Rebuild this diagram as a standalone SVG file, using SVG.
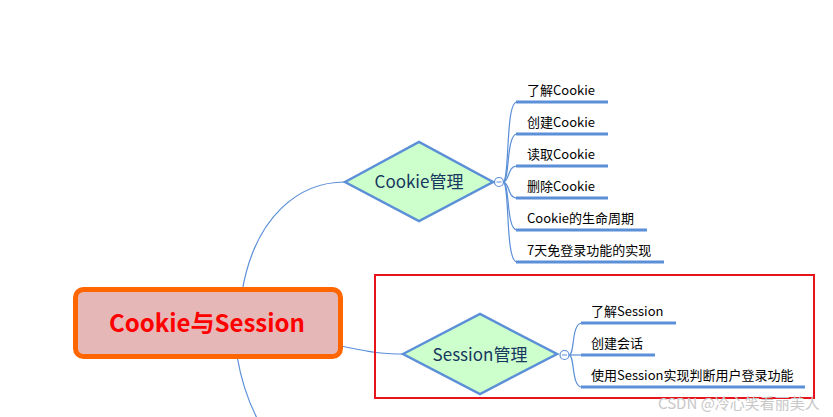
<svg xmlns="http://www.w3.org/2000/svg" width="833" height="417" viewBox="0 0 833 417">
<style>
.ln{fill:none;stroke:#5b8fd7;stroke-width:1.2}
.ul{fill:none;stroke:#5b8fd7;stroke-width:3}
.dia{fill:#ccffcc;stroke:#5b8fd7;stroke-width:2.5}
.tg{stroke:#5b8fd7;stroke-width:1.2;fill:#ffffff}
.t{font-family:"Noto Sans CJK SC","Noto Sans",sans-serif;font-size:13px;fill:#000}
.dt{font-family:"Noto Sans CJK SC","Noto Sans",sans-serif;font-size:17px;fill:#17375e;text-anchor:middle}
</style>
<rect width="833" height="417" fill="#ffffff"/>
<g id="connectors">
<path class="ln" d="M242,292 C255,215 300,182 345,182"/>
<path class="ln" d="M237,356 C242,385 250,405 258,420"/>
<path class="ln" d="M341,346 C370,352 380,354 403,354"/>
<path class="ln" d="M503,182 C510,182 505,102 517,102"/>
<path class="ln" d="M503,182 C510,182 506,134 517,134"/>
<path class="ln" d="M503,182 C510,182 507,166 517,166"/>
<path class="ln" d="M503,182 C510,182 507,198 517,198"/>
<path class="ln" d="M503,182 C510,182 506,230 517,230"/>
<path class="ln" d="M503,182 C510,182 505,262 517,262"/>
<path class="ln" d="M569,355 C575,355 571,323 582,323"/>
<path class="ln" d="M569,355 L582,355"/>
<path class="ln" d="M569,355 C575,355 571,387 582,387"/>
</g>
<g id="root">
<rect x="75.5" y="289.5" width="265" height="67" rx="8" fill="#e5b8b7" stroke="#ff6600" stroke-width="5"/>
<text x="207" y="332" text-anchor="middle" font-family="'Noto Sans CJK SC','Noto Sans',sans-serif" font-size="24" font-weight="bold" fill="#ff0000">Cookie与Session</text>
</g>
<g id="cookie">
<polygon class="dia" points="345,182 419,142 493,182 419,221"/>
<text class="dt" x="419" y="188">Cookie管理</text>
<circle class="tg" cx="499" cy="182" r="4.5"/>
<line x1="496.5" y1="182" x2="501.5" y2="182" stroke="#5b8fd7" stroke-width="1"/>
</g>
<g id="c1"><path class="ul" d="M516,102 H608"/><text class="t" x="527" y="95">了解Cookie</text></g>
<g id="c2"><path class="ul" d="M516,134 H608"/><text class="t" x="527" y="127">创建Cookie</text></g>
<g id="c3"><path class="ul" d="M516,166 H608"/><text class="t" x="527" y="159">读取Cookie</text></g>
<g id="c4"><path class="ul" d="M516,198 H608"/><text class="t" x="527" y="191">删除Cookie</text></g>
<g id="c5"><path class="ul" d="M516,230 H647"/><text class="t" x="527" y="223">Cookie的生命周期</text></g>
<g id="c6"><path class="ul" d="M516,262 H664"/><text class="t" x="527" y="255">7天免登录功能的实现</text></g>
<g id="session">
<polygon class="dia" points="403,354 480,314 557,354 480,394"/>
<text class="dt" x="480" y="361">Session管理</text>
<circle class="tg" cx="564.5" cy="355" r="4.5"/>
<line x1="562" y1="355" x2="567" y2="355" stroke="#5b8fd7" stroke-width="1"/>
</g>
<g id="s1"><path class="ul" d="M581,323 H676"/><text class="t" x="591" y="316">了解Session</text></g>
<g id="s2"><path class="ul" d="M581,355 H655"/><text class="t" x="591" y="348">创建会话</text></g>
<g id="s3"><path class="ul" d="M581,387 H805"/><text class="t" x="591" y="380">使用Session实现判断用户登录功能</text></g>
<rect id="highlight" x="375" y="275" width="439" height="123" fill="none" stroke="#e8141c" stroke-width="2"/>
<text x="658" y="409" font-family="'Noto Sans CJK SC','Noto Sans',sans-serif" font-size="15" fill="#c8c8c8">CSDN @冷心笑看丽美人</text>
</svg>
